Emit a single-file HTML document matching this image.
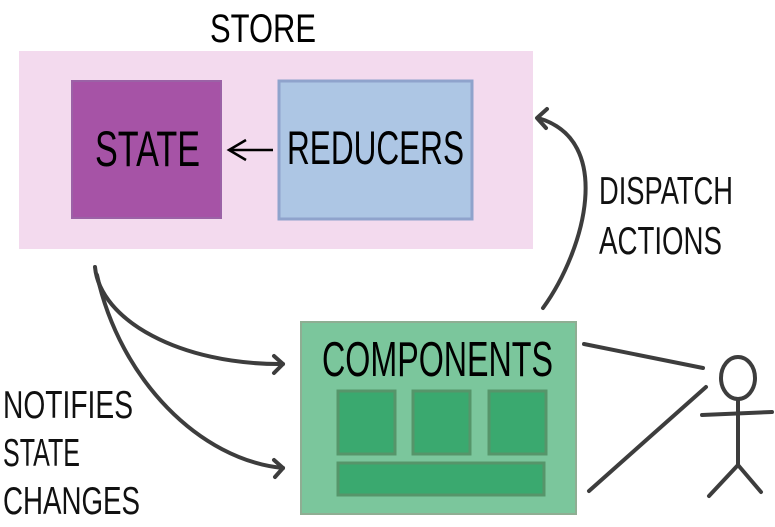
<!DOCTYPE html>
<html><head><style>html,body{margin:0;padding:0;background:#fff}svg{display:block}</style></head>
<body>
<svg width="775" height="527" viewBox="0 0 775 527" xmlns="http://www.w3.org/2000/svg" font-family="'Liberation Sans Narrow','Liberation Sans',sans-serif">
<rect x="19" y="51" width="514" height="198" fill="#f3daee"/>
<rect x="72" y="81" width="149" height="137" fill="#a653a6" stroke="#9b62a6" stroke-width="2"/>
<rect x="279" y="81" width="193" height="138" fill="#adc6e4" stroke="#8fa3cc" stroke-width="3"/>
<text x="210" y="42" font-size="40" textLength="106" lengthAdjust="spacingAndGlyphs">STORE</text>
<text x="95" y="166" font-size="50" textLength="105" lengthAdjust="spacingAndGlyphs">STATE</text>
<text x="287" y="164" font-size="47" textLength="177" lengthAdjust="spacingAndGlyphs">REDUCERS</text>
<line x1="273" y1="150" x2="229" y2="150" stroke="#000" stroke-width="2.5"/>
<polyline points="246,140 229,150 246,160" fill="none" stroke="#000" stroke-width="2.5"/>
<rect x="301" y="322" width="275" height="192" fill="#7bc69c" stroke="#8fae93" stroke-width="2"/>
<g fill="#3aa96f" stroke="#56956a" stroke-width="3">
<rect x="338" y="391" width="57" height="63"/>
<rect x="413" y="391" width="57" height="63"/>
<rect x="489" y="391" width="57" height="63"/>
<rect x="338" y="463" width="206" height="32"/>
</g>
<text x="322" y="376" font-size="49" textLength="231" lengthAdjust="spacingAndGlyphs">COMPONENTS</text>
<g fill="none" stroke="#3d3d3d" stroke-width="4" stroke-linecap="round" stroke-linejoin="round">
<path d="M543,308 C585,250 615,140 538,118"/>
<polyline points="547,109 537,118 546,128"/>
<path d="M95,267 C100,320 180,365 283,364"/>
<polyline points="274,356 283,364 274,373"/>
<path d="M97,275 C120,380 200,460 283,468"/>
<polyline points="274,460 283,468 275,477"/>
<line x1="584" y1="344" x2="703" y2="368"/>
<line x1="589" y1="491" x2="706" y2="387"/>
<ellipse cx="738" cy="378" rx="17" ry="21"/>
<line x1="738" y1="399" x2="738" y2="465"/>
<line x1="702" y1="415" x2="772" y2="412"/>
<line x1="738" y1="465" x2="709" y2="496"/>
<line x1="738" y1="465" x2="761" y2="492"/>
</g>
<g font-size="39" fill="#111">
<text x="599" y="204" textLength="134" lengthAdjust="spacingAndGlyphs">DISPATCH</text>
<text x="599" y="254" textLength="123" lengthAdjust="spacingAndGlyphs">ACTIONS</text>
<text x="3" y="418" textLength="130" lengthAdjust="spacingAndGlyphs">NOTIFIES</text>
<text x="3" y="466" textLength="77" lengthAdjust="spacingAndGlyphs">STATE</text>
<text x="3" y="514" textLength="137" lengthAdjust="spacingAndGlyphs">CHANGES</text>
</g>
</svg>
</body></html>
